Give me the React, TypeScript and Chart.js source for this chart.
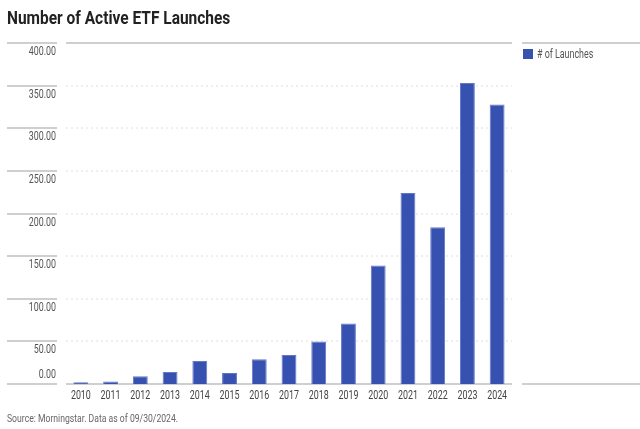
import React, { useEffect, useRef } from 'react';
import { Chart, registerables } from 'chart.js';

Chart.register(...registerables);

const years = ['2010', '2011', '2012', '2013', '2014', '2015', '2016', '2017', '2018', '2019', '2020', '2021', '2022', '2023', '2024'];
const launches = [2, 3, 9, 14, 27, 13, 29, 34, 50, 71, 139, 224, 184, 353, 328];
const yTicks = [0, 50, 100, 150, 200, 250, 300, 350, 400];
const seriesLabel = '# of Launches';

const FONT = "Roboto, 'Liberation Sans', sans-serif";
const SQUEEZE = 0.71; // fake a condensed face, no narrow font available
const BAR_COLOR = '#3651b0';
const LINE_GRAY = '#cfcfcf';

function condensedText(ctx: CanvasRenderingContext2D, text: string, x: number, y: number, align: CanvasTextAlign) {
  ctx.save();
  ctx.translate(x, y);
  ctx.scale(SQUEEZE, 1);
  ctx.textAlign = align;
  ctx.textBaseline = 'middle';
  ctx.fillText(text, 0, 0);
  ctx.restore();
}

// custom y column, grid lines and x labels (morningstar style)
const gridPlugin = {
  id: 'msGrid',
  beforeDatasetsDraw(chart: any) {
    const { ctx, chartArea, scales } = chart;
    const y = scales.y;
    const x = scales.x;
    ctx.save();
    ctx.font = `12.5px ${FONT}`;
    yTicks.forEach((v) => {
      const py = Math.round(y.getPixelForValue(v));
      const edge = v === 0 || v === 400;
      ctx.strokeStyle = edge ? LINE_GRAY : '#dedede';
      ctx.lineWidth = edge ? 2 : 1;
      ctx.setLineDash(edge ? [] : [2, 3]);
      ctx.beginPath();
      ctx.moveTo(chartArea.left, py);
      ctx.lineTo(chartArea.right, py);
      ctx.stroke();

      // short line in the label column
      ctx.setLineDash([]);
      ctx.strokeStyle = LINE_GRAY;
      ctx.lineWidth = 2;
      ctx.beginPath();
      ctx.moveTo(7, py);
      ctx.lineTo(57, py);
      ctx.stroke();

      ctx.fillStyle = '#555';
      condensedText(ctx, v.toFixed(2), 56, v === 0 ? py - 9 : py + 9, 'right');
    });

    // legend column lines
    const top = Math.round(y.getPixelForValue(400));
    const bottom = Math.round(y.getPixelForValue(0));
    ctx.strokeStyle = LINE_GRAY;
    ctx.lineWidth = 2;
    ctx.beginPath();
    ctx.moveTo(522, top);
    ctx.lineTo(640, top);
    ctx.moveTo(522, bottom);
    ctx.lineTo(640, bottom);
    ctx.stroke();

    ctx.fillStyle = '#444';
    years.forEach((yr, i) => {
      condensedText(ctx, yr, x.getPixelForValue(i), bottom + 12, 'center');
    });
    ctx.restore();
  },
};

const App: React.FC = () => {
  const canvasRef = useRef<HTMLCanvasElement>(null);

  useEffect(() => {
    document.body.style.margin = '0';
    if (!canvasRef.current) return;
    const chart = new Chart(canvasRef.current, {
      type: 'bar',
      data: {
        labels: years,
        datasets: [
          {
            label: seriesLabel,
            data: launches,
            backgroundColor: BAR_COLOR,
            borderColor: '#6378c6',
            borderWidth: 1,
            borderSkipped: 'bottom',
            barPercentage: 0.5,
            categoryPercentage: 1,
          },
        ],
      },
      options: {
        animation: false,
        responsive: false,
        devicePixelRatio: 1,
        layout: { padding: { left: 66, right: 128, top: 43, bottom: 45 } },
        plugins: {
          legend: { display: false },
          tooltip: { enabled: false },
        },
        scales: {
          x: {
            grid: { display: false, drawTicks: false },
            border: { display: false },
            ticks: { display: false },
          },
          y: {
            display: false,
            min: 0,
            max: 400,
            ticks: { stepSize: 50 },
          },
        },
      },
      plugins: [gridPlugin],
    });
    return () => chart.destroy();
  }, []);

  const squeeze = (s: number): React.CSSProperties => ({
    transform: `scaleX(${s})`,
    transformOrigin: 'left center',
    whiteSpace: 'nowrap',
  });

  return (
    <div style={{ position: 'relative', width: 640, height: 429, background: '#fff', fontFamily: FONT }}>
      <canvas ref={canvasRef} width={640} height={429} style={{ position: 'absolute', left: 0, top: 0 }} />
      <div style={{ position: 'absolute', left: 7, top: 6, fontSize: 18, fontWeight: 'bold', color: '#222', lineHeight: '24px', ...squeeze(0.86) }}>
        Number of Active ETF Launches
      </div>
      <div style={{ position: 'absolute', left: 523, top: 49, display: 'flex', alignItems: 'center' }}>
        <span style={{ display: 'inline-block', width: 10, height: 10, background: BAR_COLOR, marginRight: 4 }} />
        <span style={{ fontSize: 12.5, color: '#555', lineHeight: '10px', ...squeeze(SQUEEZE) }}>{seriesLabel}</span>
      </div>
      <div style={{ position: 'absolute', left: 7, top: 411, fontSize: 11.5, color: '#666', lineHeight: '14px', ...squeeze(0.75) }}>
        Source: Morningstar. Data as of 09/30/2024.
      </div>
    </div>
  );
};

export default App;
